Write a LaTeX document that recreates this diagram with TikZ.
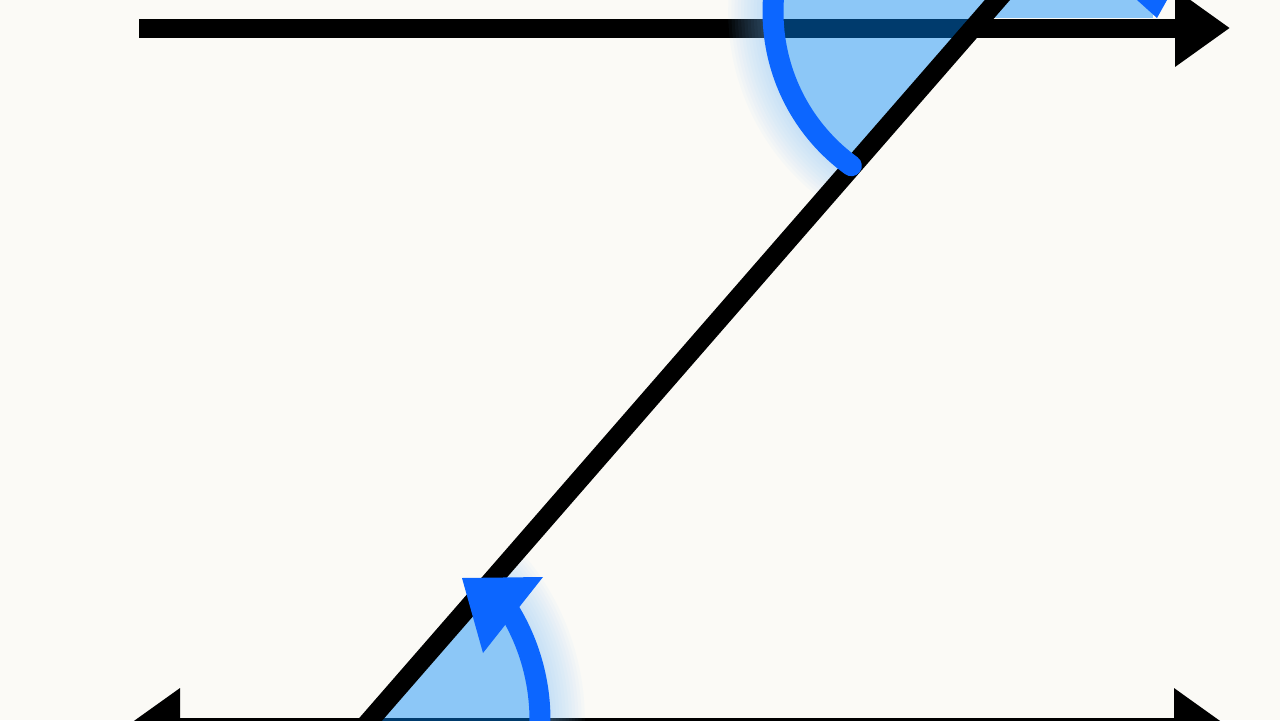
\documentclass[tikz,border=0pt]{standalone}
\usetikzlibrary{calc,arrows.meta}
\definecolor{bgc}{RGB}{251,250,246}
\definecolor{fillblue}{RGB}{0,136,250}
\definecolor{arcblue}{RGB}{12,102,255}
\definecolor{glowblue}{RGB}{120,190,250}
\tikzset{BigTip/.tip={Triangle[length=27.5pt,width=37pt]}}
\begin{document}
\begin{tikzpicture}[x=0.5pt,y=0.5pt,
  bline/.style={line width=9.5pt, black},
  anglefill/.style={fill=fillblue, fill opacity=0.44},
  anglearc/.style={draw=arcblue, line width=10.5pt, line cap=round},
  arrowhd/.style={fill=arcblue},
  glowline/.style={glowblue, line cap=round, opacity=0.04}]
\fill[bgc] (0,0) rectangle (1280,720);
\clip (0,0) rectangle (1280,720);
% key points
\coordinate (T) at (973,692);
\coordinate (B) at (364,-7);
\coordinate (C) at (963,708);
\coordinate (D) at (330,0);
\coordinate (TL) at (139,692);
\coordinate (TR) at (1230,692);
\coordinate (BL) at (125,-7);
\coordinate (BR) at (1229,-7);
% parallel lines
\draw[bline, -{BigTip}] (TL) -- (TR);
\draw[bline, {BigTip}-{BigTip}] (BL) -- (BR);
% glow, top angle
\begin{scope}
  \clip (-100,-100) -- ($(B)!-0.2!(T)$) -- (T) -- (1400,692) -- (1400,900) -- (-100,900) -- cycle;
  \begin{scope}[even odd rule]
  \clip (-100,-100) rectangle (1400,900)
     (T) -- ($(C)+(234:190)$) arc[start angle=234,end angle=-1.8,radius=190] -- ($(T)+(8.74,10)$) -- cycle;
  \foreach \i in {1,...,14}
    \draw[glowline, line width=\i*3.2pt] ($(C)+(234:190)$) arc[start angle=234,end angle=17,radius=190];
  \end{scope}
\end{scope}
% glow, bottom angle
\begin{scope}
  \clip (B) -- ($(B)!2!(T)$) -- (1700,1391) -- (1700,-100) -- (364,-100) -- cycle;
  \begin{scope}[even odd rule]
  \clip (-100,-100) rectangle (1400,900)
     (B) -- ($(D)+(-3:210)$) arc[start angle=-3,end angle=40.6,radius=210] -- cycle;
  \foreach \i in {1,...,14}
    \draw[glowline, line width=\i*3.2pt] ($(D)+(-8:210)$) arc[start angle=-8,end angle=38,radius=210];
  \end{scope}
\end{scope}
% angle fills
\path[anglefill] (T) -- ($(C)+(234:190)$) arc[start angle=234,end angle=-1.8,radius=190] -- ($(T)+(8.74,10)$) -- cycle;
\path[anglefill] (B) -- ($(D)+(-3:210)$) arc[start angle=-3,end angle=40.6,radius=210] -- cycle;
% transversal
\draw[bline] ($(B)!-0.15!(T)$) -- ($(T)!-0.15!(B)$);
% angle arcs with arrowheads
\draw[anglearc] ($(C)+(234:190)$) arc[start angle=234,end angle=17,radius=190];
\fill[arrowhd] (1157,702) -- (1196,772) -- (1097,756) -- cycle;
\draw[anglearc, line cap=butt] ($(D)+(-8:210)$) arc[start angle=-8,end angle=31,radius=210];
\fill[arrowhd] (462,142) -- (543,143) -- (483,67) -- cycle;
\end{tikzpicture}
\end{document}
